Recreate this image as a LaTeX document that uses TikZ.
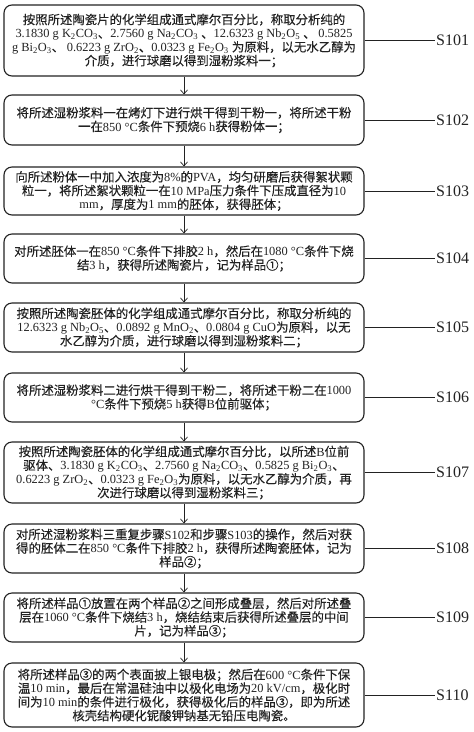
\documentclass[tikz,border=0pt]{standalone}
\usepackage{fontspec}
\setmainfont{Liberation Serif}
\newfontfamily\cjkf[FakeBold=0.25]{Noto Sans CJK SC}
\usetikzlibrary{arrows.meta}
\XeTeXinterchartokenstate=1
\newXeTeXintercharclass\CJKc
\newcount\cjkn
\def\setcjkrange#1#2{\cjkn=#1\relax\loop\XeTeXcharclass\cjkn=\CJKc\relax\advance\cjkn by 1\relax\ifnum\cjkn<#2\relax\repeat}
\setcjkrange{"4E00}{"A000}
\setcjkrange{"3000}{"3040}
\setcjkrange{"FF00}{"FFF0}
\setcjkrange{"2460}{"2474}
\XeTeXinterchartoks 0 \CJKc={\cjkf}
\XeTeXinterchartoks 4095 \CJKc={\cjkf}
\XeTeXinterchartoks \CJKc 0={\rmfamily}
\XeTeXinterchartoks 4095 0={\rmfamily}
\definecolor{ink}{HTML}{222222}
\tikzset{
  stepbox/.style={draw=ink, line width=1.1pt, rounded corners=8pt, minimum width=360pt,
    align=center, inner sep=2pt, text=ink, font=\fontsize{12.4}{13.7}\selectfont},
  arr/.style={draw=ink, line width=0.7pt, -{Straight Barb[length=4pt,width=7pt]}},
  lab/.style={anchor=west, inner sep=1pt, text=ink, font=\fontsize{16}{18}\selectfont},
  lk/.style={draw=ink, line width=1pt}
}
\newcommand{\sbs}[1]{\textsubscript{#1}}
\begin{document}
\begin{tikzpicture}[x=1pt,y=-1pt]
\useasboundingbox[fill=white] (0,0) rectangle (474,732);
\node[stepbox, minimum height=71pt] (b1) at (184,40.5) {按照所述陶瓷片的化学组成通式摩尔百分比，称取分析纯的\\
3.1830 g K\sbs{2}CO\sbs{3}、2.7560 g Na\sbs{2}CO\sbs{3} 、12.6323 g Nb\sbs{2}O\sbs{5} 、 0.5825\\
g Bi\sbs{2}O\sbs{3}、 0.6223 g ZrO\sbs{2}、0.0323 g Fe\sbs{2}O\sbs{3} 为原料，以无水乙醇为\\
介质，进行球磨以得到湿粉浆料一；};
\node[stepbox, minimum height=50pt] (b2) at (184,120) {将所述湿粉浆料一在烤灯下进行烘干得到干粉一，将所述干粉\\
一在850 °C条件下预烧6 h获得粉体一；};
\node[stepbox, minimum height=48pt] (b3) at (184,191) {向所述粉体一中加入浓度为8\%的PVA，均匀研磨后获得絮状颗\\
粒一，将所述絮状颗粒一在10 MPa压力条件下压成直径为10\\
mm，厚度为1 mm的胚体，获得胚体；};
\node[stepbox, minimum height=49pt] (b4) at (184,258.5) {对所述胚体一在850 °C条件下排胶2 h，然后在1080 °C条件下烧\\
结3 h，获得所述陶瓷片，记为样品①；};
\node[stepbox, minimum height=49pt] (b5) at (184,327.5) {按照所述陶瓷胚体的化学组成通式摩尔百分比，称取分析纯的\\
12.6323 g Nb\sbs{2}O\sbs{5}、0.0892 g MnO\sbs{2}、0.0804 g CuO为原料，以无\\
水乙醇为介质，进行球磨以得到湿粉浆料二；};
\node[stepbox, minimum height=49pt] (b6) at (184,397.5) {将所述湿粉浆料二进行烘干得到干粉二，将所述干粉二在1000\\
°C条件下预烧5 h获得B位前驱体；};
\node[stepbox, minimum height=61pt] (b7) at (184,472.5) {按照所述陶瓷胚体的化学组成通式摩尔百分比，以所述B位前\\
驱体、3.1830 g K\sbs{2}CO\sbs{3}、2.7560 g Na\sbs{2}CO\sbs{3}、0.5825 g Bi\sbs{2}O\sbs{3}、\\
0.6223 g ZrO\sbs{2}、0.0323 g Fe\sbs{2}O\sbs{3}为原料，以无水乙醇为介质，再\\
次进行球磨以得到湿粉浆料三；};
\node[stepbox, minimum height=49pt] (b8) at (184,548.5) {对所述湿粉浆料三重复步骤S102和步骤S103的操作，然后对获\\
得的胚体二在850 °C条件下排胶2 h，获得所述陶瓷胚体，记为\\
样品②；};
\node[stepbox, minimum height=49pt] (b9) at (184,617.5) {将所述样品①放置在两个样品②之间形成叠层，然后对所述叠\\
层在1060 °C条件下烧结3 h，烧结结束后获得所述叠层的中间\\
片，记为样品③；};
\node[stepbox, minimum height=64pt] (b10) at (184,695) {将所述样品③的两个表面披上银电极；然后在600 °C条件下保\\
温10 min，最后在常温硅油中以极化电场为20 kV/cm，极化时\\
间为10 min的条件进行极化，获得极化后的样品③，即为所述\\
核壳结构硬化铌酸钾钠基无铅压电陶瓷。};
\foreach \i/\j in {1/2,2/3,3/4,4/5,5/6,6/7,7/8,8/9,9/10}{
  \draw[arr] (b\i.south) -- (b\j.north);
}
\foreach \i/\yy in {1/40.5,2/120,3/191,4/258.5,5/327.5,6/397.5,7/472.5,8/548.5,9/617.5,10/695}{
  \node[lab] (l\i) at (435,\yy) {S\ifnum\i<10 10\i\else 110\fi};
  \draw[lk] (b\i.east) -- (l\i.west);
}
\end{tikzpicture}
\end{document}
